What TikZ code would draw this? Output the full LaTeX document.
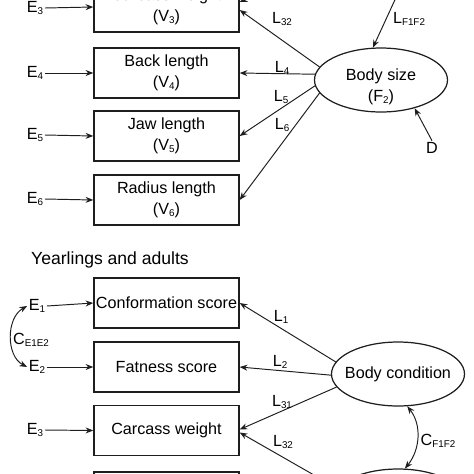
\documentclass[tikz,border=0pt]{standalone}
\usepackage{fontspec}
\setmainfont{Liberation Sans}
\usetikzlibrary{positioning,calc}
\usetikzlibrary{arrows.meta,shapes.geometric}
\definecolor{LineGray}{RGB}{30,30,30}
\newcommand{\sbx}[1]{\raisebox{-0.25ex}{\fontsize{5.6}{6}\selectfont #1}}
\tikzset{
	var/.style={draw=LineGray,line width=0.8pt,minimum width=2.9cm,minimum height=1cm,
		align=center,inner sep=0pt,font=\fontsize{9.2}{12}\selectfont},
	fac/.style={ellipse,draw=LineGray,line width=0.7pt,minimum width=2.66cm,minimum height=1.28cm,
		align=center,inner xsep=-4pt,inner ysep=0pt,font=\fontsize{9.2}{12}\selectfont},
	lab/.style={inner sep=0.8pt,font=\fontsize{9.2}{11}\selectfont},
	arr/.style={draw=LineGray,line width=0.55pt,-{Stealth[length=4.4pt,width=3.4pt]}},
	cov/.style={draw=LineGray,line width=0.55pt,{Stealth[length=4.4pt,width=3.4pt]}-{Stealth[length=4.4pt,width=3.4pt]}},
}
\begin{document}
\begin{tikzpicture}[x=0.02cm,y=-0.02cm]
	\useasboundingbox (0,0) rectangle (474,474);
	\clip (0,0) rectangle (474,474);
	% upper panel
	\node[var] (v3) at (166.5,7) {Carcass weight\\(V\sbx{3})};
	\node[var] (v4) at (166.5,73) {Back length\\(V\sbx{4})};
	\node[var] (v5) at (166.5,136) {Jaw length\\(V\sbx{5})};
	\node[var] (v6) at (166.5,200) {Radius length\\(V\sbx{6})};
	\node[lab] (e3) at (35,8) {E\sbx{3}};
	\node[lab] (e4) at (35,73) {E\sbx{4}};
	\node[lab] (e5) at (35,135) {E\sbx{5}};
	\node[lab] (e6) at (35,199) {E\sbx{6}};
	\node[fac,label={[align=center,yshift=-4pt,font=\fontsize{9.2}{12}\selectfont]center:Body size\\(F\sbx{2})}] (bs) at (381,80) {};
	\node[lab] (d) at (432,148) {D};
	\coordinate (f1up) at (335,-38);
	\coordinate (lfup) at (405,-22);
	\draw[arr] (e3.east) -- (v3.west);
	\draw[arr] (e4.east) -- (v4.west);
	\draw[arr] (e5.east) -- (v5.west);
	\draw[arr] (e6.east) -- (v6.west);
	\draw[arr] (f1up) -- ($(v3.east)+(0,-5)$);
	\draw[arr] (bs.168) -- ($(v3.east)+(0,3)$);
	\draw[arr] (bs.175) -- (v4.east);
	\draw[arr] (bs.185) -- (v5.east);
	\draw[arr] (bs.192) -- (v6.east);
	\draw[arr] (lfup) -- (bs.104);
	\draw[arr] (d.north) -- (bs.-40);
	\node[lab] (l32) at (282,19) {L\sbx{32}};
	\node[lab] (l4) at (282,68) {L\sbx{4}};
	\node[lab] (l5) at (281,97) {L\sbx{5}};
	\node[lab] (l6) at (282,125) {L\sbx{6}};
	\node[lab] (lf) at (409,19) {L\sbx{F1F2}};
	% lower panel
	\node[font=\fontsize{10}{12}\selectfont] (title) at (110,260) {Yearlings and adults};
	\node[var] (c1) at (166.5,303) {Conformation score};
	\node[var] (c2) at (166.5,367) {Fatness score};
	\node[var] (w3) at (166.5,430.5) {Carcass weight};
	\node[var] (w4) at (166.5,497) {};
	\node[lab] (e1) at (37,306) {E\sbx{1}};
	\node[lab] (e2) at (37,367) {E\sbx{2}};
	\node[lab] (e3b) at (35,430) {E\sbx{3}};
	\node[fac] (bc) at (398,374) {Body condition};
	\node[fac] (bs2) at (398,501) {};
	\draw[arr] (e1.east) -- (c1.west);
	\draw[arr] (e2.east) -- (c2.west);
	\draw[arr] (e3b.east) -- (w3.west);
	\draw[cov] (e1.west) .. controls (6,318) and (6,356) .. (e2.west);
	\draw[arr] (bc.169) -- (c1.east);
	\draw[arr] (bc.181) -- (c2.east);
	\draw[arr] (bc.192) -- ($(w3.east)+(0,-1)$);
	\draw[arr] (bs2.168) -- ($(w3.east)+(0,2)$);
	\draw[cov] (bc.-74) .. controls (422,425) and (420,450) .. (bs2.78);
	\node[lab] (ce) at (31,340) {C\sbx{E1E2}};
	\node[lab] (l1) at (281,317) {L\sbx{1}};
	\node[lab] (l2) at (280,362) {L\sbx{2}};
	\node[lab] (l31) at (282,402) {L\sbx{31}};
	\node[lab] (l32b) at (283,442) {L\sbx{32}};
	\node[lab] (cf) at (438,441) {C\sbx{F1F2}};
\end{tikzpicture}
\end{document}
